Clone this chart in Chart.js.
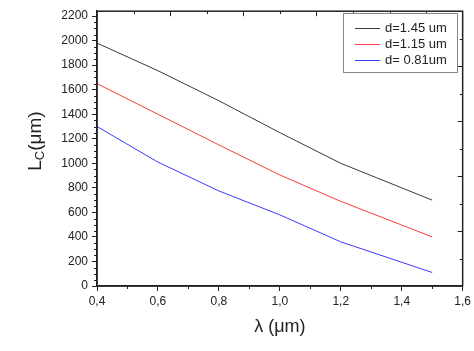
<!DOCTYPE html>
<html>
<head>
<meta charset="utf-8">
<script src="https://cdn.jsdelivr.net/npm/chart.js@4/dist/chart.umd.min.js"></script>
<style>
html,body{margin:0;padding:0;background:#fff;}
#wrap{width:474px;height:351px;position:relative;}
</style>
</head>
<body>
<div id="wrap"><canvas id="c" width="474" height="351"></canvas></div>
<script>
const wavelengths = [0.4, 0.6, 0.8, 1.0, 1.2, 1.5];
const seriesLabels = ["d=1.45 um", "d=1.15 um", "d= 0.81um"];
const lc145 = [1980, 1755, 1510, 1250, 1000, 700];
const lc115 = [1650, 1400, 1150, 905, 690, 400];
const lc081 = [1300, 1010, 775, 580, 360, 110];
const xTickValues = [0.4, 0.6, 0.8, 1.0, 1.2, 1.4, 1.6];
const yTickValues = [0, 200, 400, 600, 800, 1000, 1200, 1400, 1600, 1800, 2000, 2200];
const seriesColors = ["#3a3a3a", "#ff3b3b", "#3b3bff"];
const yTitleMain = "L", yTitleSub = "C", yTitleRest = "(\u03bcm)";
const xTitle = "\u03bb (\u03bcm)";

function pts(vals){ return wavelengths.map((x,i)=>({x:x,y:vals[i]})); }

const FONT = "'Liberation Sans', Arial, sans-serif";

const decor = {
  id: 'decor',
  afterDraw(chart){
    const ctx = chart.ctx, xs = chart.scales.x, ys = chart.scales.y, a = chart.chartArea;
    ctx.save();
    ctx.strokeStyle = '#222';
    ctx.lineWidth = 1;
    ctx.beginPath();
    // minor ticks left (every 50) outward
    for (let v = 50; v < 2240; v += 50) {
      if (v % 200 === 0) continue;
      const y = Math.round(ys.getPixelForValue(v)) + 0.5;
      ctx.moveTo(a.left - 3, y); ctx.lineTo(a.left, y);
    }
    // minor ticks bottom
    for (let k = 0; k < 6; k++) {
      const x = Math.round(xs.getPixelForValue(0.5 + k*0.2)) + 0.5;
      ctx.moveTo(x, a.bottom); ctx.lineTo(x, a.bottom + 3);
    }
    // top inward ticks
    for (let k = 1; k < 10; k++) {
      const x = Math.round(xs.getPixelForValue(0.4 + k*0.12)) + 0.5;
      const len = (k % 2 === 0) ? 5 : 3;
      ctx.moveTo(x, a.top); ctx.lineTo(x, a.top + len);
    }
    // right inward ticks
    for (let k = 1; k < 10; k++) {
      const y = Math.round(ys.getPixelForValue(k*224)) + 0.5;
      const len = (k % 2 === 0) ? 5 : 3;
      ctx.moveTo(a.right, y); ctx.lineTo(a.right - len, y);
    }
    ctx.stroke();
    // frame
    ctx.lineWidth = 1.5;
    ctx.strokeStyle = '#222';
    ctx.strokeRect(a.left, a.top, a.right - a.left, a.bottom - a.top);

    // legend
    const lx = 343, ly = 13, lw = 114, lh = 59;
    ctx.fillStyle = '#fff';
    ctx.fillRect(lx, ly, lw, lh);
    ctx.lineWidth = 1;
    ctx.strokeStyle = '#888';
    ctx.strokeRect(lx + 0.5, ly + 0.5, lw, lh);
    ctx.font = '13px ' + FONT;
    ctx.textBaseline = 'middle';
    ctx.textAlign = 'left';
    chart.data.datasets.forEach((ds, i) => {
      const y = 28 + i * 16;
      ctx.strokeStyle = ds.borderColor;
      ctx.beginPath();
      ctx.moveTo(355, y + 0.5); ctx.lineTo(380, y + 0.5);
      ctx.stroke();
      ctx.fillStyle = '#222';
      ctx.fillText(ds.label, 385, y);
    });

    // y title with subscript
    ctx.save();
    ctx.translate(34, 141);
    ctx.rotate(-Math.PI / 2);
    ctx.fillStyle = '#222';
    ctx.textBaseline = 'alphabetic';
    ctx.font = '19px ' + FONT;
    const wL = ctx.measureText(yTitleMain).width;
    ctx.font = '13px ' + FONT;
    const wC = ctx.measureText(yTitleSub).width;
    ctx.font = '19px ' + FONT;
    const wR = ctx.measureText(yTitleRest).width;
    let x0 = -(wL + wC + wR) / 2;
    ctx.fillText(yTitleMain, x0, 7);
    ctx.font = '13px ' + FONT;
    ctx.fillText(yTitleSub, x0 + wL, 10);
    ctx.font = '19px ' + FONT;
    ctx.fillText(yTitleRest, x0 + wL + wC, 7);
    ctx.restore();

    // x title
    ctx.font = '18px ' + FONT;
    ctx.textAlign = 'center';
    ctx.textBaseline = 'middle';
    ctx.fillStyle = '#222';
    ctx.fillText(xTitle, (a.left + a.right) / 2, 327);
    ctx.restore();
  }
};

new Chart(document.getElementById('c'), {
  type: 'line',
  data: {
    datasets: [
      { label: seriesLabels[0], data: pts(lc145), borderColor: seriesColors[0] },
      { label: seriesLabels[1], data: pts(lc115), borderColor: seriesColors[1] },
      { label: seriesLabels[2], data: pts(lc081), borderColor: seriesColors[2] }
    ].map(d => Object.assign(d, { borderWidth: 1, pointRadius: 0, fill: false, tension: 0 }))
  },
  options: {
    responsive: false,
    animation: false,
    layout: { padding: { top: 11, right: 11, left: 0, bottom: 0 } },
    plugins: { legend: { display: false }, tooltip: { enabled: false } },
    scales: {
      x: {
        type: 'linear', min: 0.4, max: 1.6,
        afterFit(s){ s.height = 65; },
        afterBuildTicks(s){ s.ticks = xTickValues.map(v => ({ value: v })); },
        ticks: {
          autoSkip: false, maxRotation: 0, padding: 3, color: '#222',
          font: { size: 12, family: FONT },
          callback: v => Number(v).toFixed(1).replace('.', ',')
        },
        grid: { drawOnChartArea: false, tickLength: 5, tickColor: '#222', tickWidth: 1 },
        border: { color: '#222', width: 1.5 }
      },
      y: {
        type: 'linear', min: 0, max: 2240,
        afterFit(s){ s.width = 97; },
        afterBuildTicks(s){ s.ticks = yTickValues.map(v => ({ value: v })); },
        ticks: {
          autoSkip: false, padding: 4, color: '#222',
          font: { size: 12, family: FONT },
          callback: v => String(v)
        },
        grid: { drawOnChartArea: false, tickLength: 5, tickWidth: 1, tickColor: '#222' },
        border: { color: '#222', width: 1.5 }
      }
    }
  },
  plugins: [decor]
});
</script>
</body>
</html>
